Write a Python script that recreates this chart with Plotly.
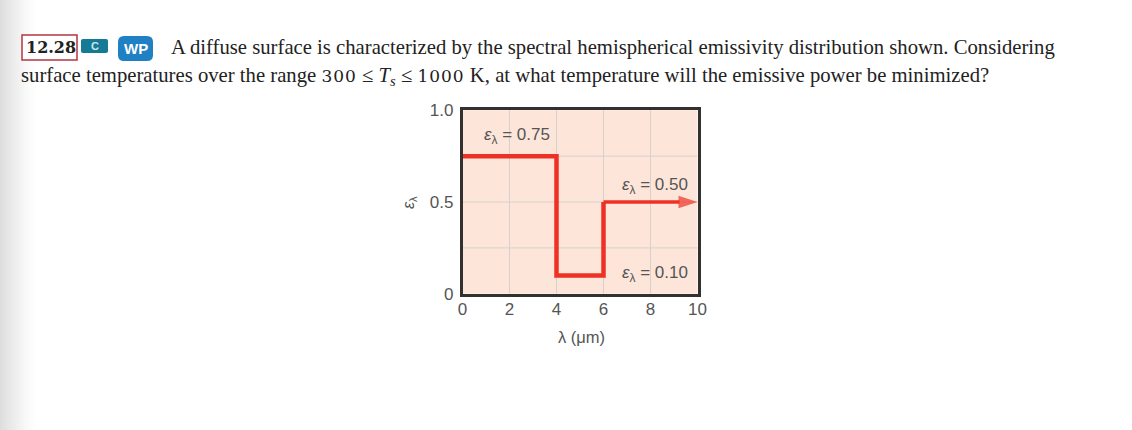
import plotly.graph_objects as go

W, H = 1132, 430

wavelength = [0, 4, 4, 6, 6]
emissivity = [0.75, 0.75, 0.10, 0.10, 0.50]
tail_wavelength = [6, 10]
tail_emissivity = [0.50, 0.50]

x_ticks = [0, 2, 4, 6, 8, 10]
y_ticks = [0, 0.5, 1.0]
y_tick_labels = ["0", "0.5", "1.0"]
x_grid = [2, 4, 6, 8]
y_grid = [0.25, 0.5, 0.75]

eps = "<i>ε</i><sub>λ</sub>"
old = lambda s: f"<span style='font-family:DejaVu Serif;font-size:17px;letter-spacing:1px'>{s}</span>"
line1 = "A diffuse surface is characterized by the spectral hemispherical emissivity distribution shown. Considering"
line2 = ("surface temperatures over the range " + old("300") + " ≤ <i>T<sub>s</sub></i> ≤ " + old("1000")
         + " K, at what temperature will the emissive power be minimized?")


# everything outside the axes is placed in page pixels
def px(x):
    return x / W


def py(y):
    return 1 - y / H


def note(x, y, text, size=16, color="#555555", family="Liberation Sans", anchor="center", angle=0):
    fig.add_annotation(x=px(x), y=py(y), xref="paper", yref="paper", text=text, showarrow=False,
                       xanchor=anchor, yanchor="middle", textangle=angle,
                       font=dict(size=size, color=color, family=family))


def box(x0, y0, x1, y1, fill="rgba(0,0,0,0)", line="rgba(0,0,0,0)", width=0):
    fig.add_shape(type="rect", xref="paper", yref="paper", x0=px(x0), x1=px(x1), y0=py(y1), y1=py(y0),
                  fillcolor=fill, line=dict(color=line, width=width), layer="below")


def badge(x0, y0, x1, y1, r, fill):
    path = (f"M {px(x0 + r)} {py(y0)} L {px(x1 - r)} {py(y0)} Q {px(x1)} {py(y0)} {px(x1)} {py(y0 + r)} "
            f"L {px(x1)} {py(y1 - r)} Q {px(x1)} {py(y1)} {px(x1 - r)} {py(y1)} "
            f"L {px(x0 + r)} {py(y1)} Q {px(x0)} {py(y1)} {px(x0)} {py(y1 - r)} "
            f"L {px(x0)} {py(y0 + r)} Q {px(x0)} {py(y0)} {px(x0 + r)} {py(y0)} Z")
    fig.add_shape(type="path", xref="paper", yref="paper", path=path, fillcolor=fill,
                  line=dict(width=0), layer="below")


fig = go.Figure()

fig.add_trace(go.Scatter(x=wavelength, y=emissivity, mode="lines",
                         line=dict(color="#ee3124", width=4.5, shape="linear")))
fig.add_trace(go.Scatter(x=tail_wavelength, y=tail_emissivity, mode="lines+markers",
                         line=dict(color="#ee3124", width=3.5),
                         marker=dict(symbol=["circle", "arrow"], size=[0, 20], angleref="previous",
                                     color="#ee3124", line=dict(width=0), standoff=0)))

# soft grey shadow down the left edge of the page
for i in range(36):
    box(i, 0, i + 1, H, fill=f"rgba(120,120,120,{0.25 * (1 - i / 36) ** 1.3:.3f})")

box(22, 35, 77, 60, fill="white", line="#b5343c", width=1.5)
badge(81, 39, 108, 53, 2, "#157a96")
badge(118, 36, 153, 61, 6, "#1f80c4")

note(24, 47, "<b>12.28</b>", size=16, color="#222222", family="DejaVu Serif", anchor="left")
note(94.5, 46, "<b>C</b>", size=11, color="#cfe6ee")
note(135.5, 48, "<b>WP</b>", size=15, color="white")
note(169, 47, line1, size=20.7, color="#222222", family="Liberation Serif", anchor="left")
note(19, 76, line2, size=20.7, color="#222222", family="Liberation Serif", anchor="left")

note(516.5, 135.5, eps + " = 0.75", size=17)
note(654.5, 185.5, eps + " = 0.50", size=17)
note(654.5, 273.5, eps + " = 0.10", size=17)
note(409, 203, eps, size=16, angle=-90)
note(581, 337, "λ (μm)", size=16.5)

fig.update_layout(
    width=W, height=H, margin=dict(l=0, r=0, t=0, b=0, pad=0, autoexpand=False), showlegend=False,
    paper_bgcolor="white", plot_bgcolor="#fde6d9",
    xaxis=dict(domain=[px(462.5), px(697.5)], range=[0, 10], tickvals=x_ticks, ticks="", showgrid=False,
               zeroline=False, showline=True, mirror=True, linecolor="#333030", linewidth=2.5,
               ticklabelstandoff=-2, tickfont=dict(size=17, color="#555555", family="Liberation Sans")),
    yaxis=dict(domain=[py(293.75), py(110.25)], range=[0, 1], tickvals=y_ticks, ticktext=y_tick_labels, ticks="",
               showgrid=False, zeroline=False, showline=True, mirror=True, linecolor="#333030", linewidth=2.5,
               ticklabelstandoff=3, tickfont=dict(size=17, color="#555555", family="Liberation Sans")),
)

for g in x_grid:
    fig.add_vline(x=g, line=dict(color="#d8d0cb", width=1), layer="below")
for g in y_grid:
    fig.add_hline(y=g, line=dict(color="#d8d0cb", width=1), layer="below")

fig.write_html("out.html", config={"displayModeBar": False},
               post_script="document.body.style.margin='0';")
